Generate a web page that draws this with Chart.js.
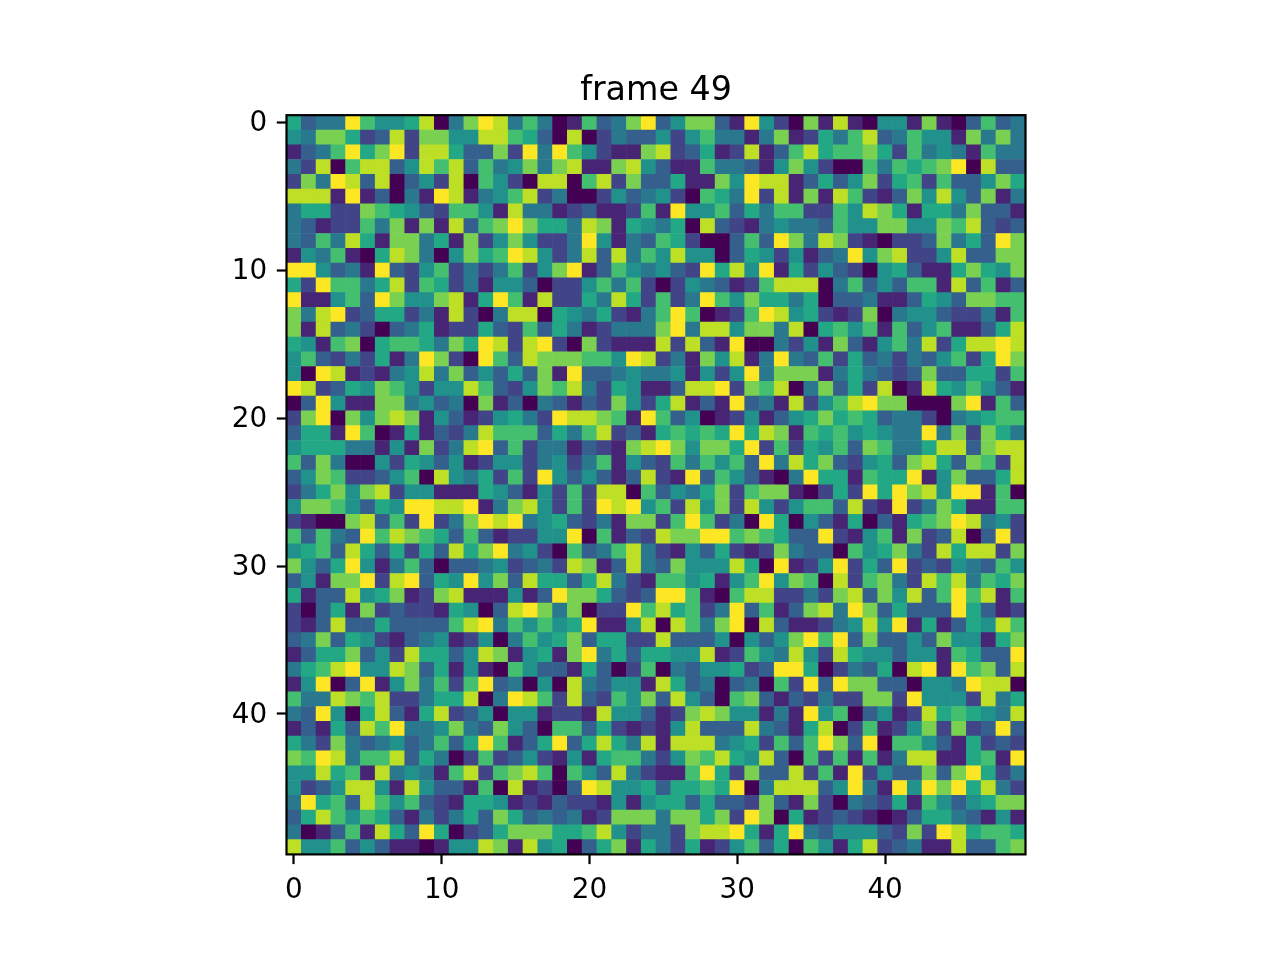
<!DOCTYPE html>
<html>
<head>
<meta charset="utf-8">
<title>frame 49</title>
<script src="https://cdn.jsdelivr.net/npm/chart.js@4.4.1/dist/chart.umd.min.js"></script>
<style>
  html, body { margin: 0; padding: 0; background: #fff; }
  canvas { display: block; }
</style>
</head>
<body>
<canvas id="frameChart" width="1280" height="960"></canvas>
<script>
const title = "frame 49";
const xTicks = [0, 10, 20, 30, 40];
const yTicks = [0, 10, 20, 30, 40];

// cell values in tenths (0 = lowest, 10 = highest), one array per image row, top row first
const rows = [
  [6,3,4,4,10,7,5,5,6,9,0,4,8,10,9,4,7,4,0,1,7,3,4,8,10, 3,5,8,8,3,1,10,5,2,0,8,1,9,1,0,5,5,1,8,1,0,3,7,3,4],
  [5,4,8,8,6,2,3,9,2,8,8,5,5,9,9,7,6,3,0,9,0,2,4,3,3, 5,2,5,7,4,4,1,4,8,1,2,6,4,7,9,3,4,7,5,5,1,8,4,8,4],
  [1,3,4,7,10,6,8,10,2,9,9,6,3,3,8,2,10,4,10,7,5,2,1,1,8, 9,2,3,6,1,2,9,1,3,7,9,6,7,7,8,6,2,7,4,5,4,1,7,4,4],
  [4,2,9,0,7,9,9,3,5,9,7,9,3,7,4,5,8,4,8,9,1,1,8,9,5, 3,1,1,7,4,4,3,1,5,8,5,2,0,0,7,4,7,6,7,8,10,0,9,3,3],
  [2,8,4,10,9,3,9,0,3,5,2,9,0,7,5,2,0,9,9,0,7,9,2,8,3, 3,6,1,1,8,5,10,9,9,1,3,6,3,5,8,2,6,7,2,7,3,3,5,8,6],
  [9,9,9,1,10,1,3,0,4,1,10,9,1,4,5,7,9,2,4,0,0,2,5,3,4, 5,2,0,7,6,4,10,2,9,1,8,1,9,7,2,1,3,8,5,9,5,3,8,1,4],
  [4,6,6,2,2,8,7,6,5,3,2,7,7,5,1,9,4,4,1,2,3,1,1,2,7, 1,10,5,5,7,3,6,4,7,7,2,2,7,5,9,8,6,1,6,6,4,8,3,3,1],
  [4,3,1,2,2,7,4,8,1,8,1,9,3,7,8,10,8,6,6,4,9,8,1,6,5, 4,6,0,9,3,2,1,4,5,4,4,3,7,5,5,8,8,5,5,8,7,9,3,2,3],
  [4,3,7,4,9,6,1,8,8,4,6,1,8,2,5,8,5,2,2,4,10,5,1,4,3, 7,6,2,0,0,3,7,3,10,8,4,9,8,2,1,0,2,2,3,8,4,6,3,10,8],
  [1,5,4,7,1,0,6,9,8,4,0,5,8,6,7,10,9,5,2,4,9,3,9,4,7, 5,9,5,5,0,3,6,5,2,5,1,3,4,10,5,8,9,2,2,5,9,3,3,8,8],
  [10,10,5,3,4,1,10,3,2,5,7,2,4,2,4,7,2,5,8,10,1,3,7,5,4, 5,3,2,10,6,9,5,10,1,6,2,5,3,2,0,5,6,3,1,1,6,8,6,5,8],
  [6,2,10,7,7,4,6,9,2,7,6,2,4,1,5,5,3,0,2,2,5,7,4,7,2, 0,2,5,4,3,1,2,7,9,9,9,0,4,7,3,5,3,7,7,1,9,3,7,1,3],
  [10,1,1,5,7,3,10,8,5,5,8,9,1,6,10,7,1,9,2,2,6,4,9,6,2, 7,2,4,10,7,5,8,6,6,4,6,0,3,3,4,1,1,3,6,5,3,8,8,7,7],
  [8,4,9,10,2,3,6,6,2,4,1,9,2,0,4,9,9,0,6,5,4,6,2,1,4, 7,10,7,0,1,2,7,10,9,5,6,2,1,2,8,0,4,5,5,3,2,2,4,1,7],
  [8,1,9,3,4,2,0,3,4,6,1,2,2,6,3,2,7,3,6,4,1,2,4,4,4, 8,10,4,9,9,5,8,8,4,9,0,6,7,5,7,1,7,3,5,7,1,1,3,6,9],
  [6,5,1,7,8,0,6,7,7,6,4,8,6,10,9,2,9,10,2,0,8,2,1,1,1, 9,2,9,3,1,10,0,0,4,2,5,1,8,3,1,5,7,4,9,2,6,9,9,10,9],
  [5,7,3,2,4,2,6,1,4,10,8,2,0,10,7,3,9,8,8,8,7,7,5,10,9, 2,4,1,8,5,9,1,4,10,4,3,7,2,6,3,4,2,4,3,5,7,2,6,10,8],
  [5,0,10,9,1,2,1,4,5,9,4,8,3,5,3,6,3,8,1,10,3,3,4,5,4, 4,5,1,5,2,5,10,4,8,8,8,1,4,6,4,3,2,3,8,3,3,6,6,2,7],
  [10,9,2,3,6,5,8,7,5,2,5,5,9,7,3,2,5,8,7,9,4,2,6,5,1, 1,3,9,9,10,2,8,7,9,0,4,8,3,6,2,9,0,1,9,6,5,7,5,3,1],
  [0,3,10,5,1,1,8,8,4,5,3,4,0,8,1,3,0,4,3,1,3,2,8,5,2, 6,9,1,3,1,10,3,4,1,9,2,5,7,9,10,8,8,0,0,0,8,10,1,7,3],
  [2,8,10,0,8,5,8,9,8,1,5,3,1,2,5,6,4,2,10,9,9,8,7,1,10, 7,3,5,0,1,2,5,1,3,5,6,8,6,7,6,3,4,4,2,0,4,5,6,7,7],
  [3,6,6,1,10,7,0,1,6,1,3,2,4,9,7,7,7,3,6,4,7,9,2,3,1, 6,7,6,7,6,10,6,9,8,1,7,6,7,5,6,5,4,4,10,4,8,2,8,6,4],
  [5,6,6,6,4,4,1,5,1,8,2,4,9,10,3,7,2,4,4,1,3,2,1,8,9, 10,8,5,8,8,6,10,2,7,2,6,5,7,3,8,7,4,4,6,9,9,3,8,9,9],
  [7,3,8,4,0,0,5,2,6,5,3,5,1,2,5,5,2,4,5,2,4,7,1,5,3, 2,7,4,7,5,7,3,10,4,9,6,8,3,2,5,6,3,8,9,6,3,8,7,2,9],
  [3,5,8,7,2,2,3,5,7,0,9,5,4,6,2,7,2,10,5,3,5,3,1,3,9, 2,1,10,3,7,5,3,1,0,4,10,6,6,1,7,6,6,10,1,5,8,3,3,6,9],
  [2,4,6,8,5,8,9,2,5,5,1,1,1,6,5,3,1,5,2,7,2,9,9,0,7, 3,5,4,6,8,2,7,8,8,1,0,2,6,2,10,6,10,8,9,5,10,10,1,7,0],
  [5,8,8,7,5,3,6,5,10,10,9,9,10,1,4,8,9,5,2,7,2,10,9,10,5, 7,2,9,5,8,2,9,5,2,5,7,7,3,9,2,1,10,2,4,8,6,1,1,7,7],
  [2,1,0,0,8,9,3,7,2,10,2,4,8,10,9,10,4,5,6,3,2,4,1,8,8, 2,7,10,7,2,4,0,10,6,0,5,3,1,6,0,3,1,6,7,8,10,9,4,5,2],
  [7,3,7,4,3,10,7,9,8,7,6,3,7,3,1,2,2,5,5,10,0,7,1,3,2, 9,8,8,10,10,7,8,7,6,3,3,10,2,1,5,7,1,8,2,3,9,0,3,10,2],
  [5,6,7,3,9,6,3,6,2,6,3,9,6,8,10,4,5,2,0,7,3,4,7,9,4, 2,1,5,3,6,2,1,2,8,4,3,3,0,7,5,6,8,4,2,9,6,9,9,2,8],
  [8,5,3,6,10,5,1,4,7,3,0,3,3,4,5,2,3,4,2,9,8,1,3,9,4, 3,8,5,5,5,9,6,0,10,1,2,5,10,2,6,3,10,2,3,2,5,4,3,7,5],
  [3,5,1,8,8,10,2,9,10,3,6,5,10,5,8,3,9,6,6,3,6,9,4,2,1, 7,7,5,6,1,5,7,10,5,8,7,0,9,2,7,8,4,2,9,7,9,4,7,6,8],
  [6,1,3,3,9,5,6,8,1,2,8,9,1,1,1,5,1,3,10,8,8,6,3,2,3, 10,10,7,1,0,7,9,9,2,2,4,2,8,9,3,8,5,9,3,7,10,7,9,1,7],
  [2,0,3,6,1,8,2,3,2,2,1,6,5,0,3,9,10,8,4,8,0,2,2,10,7, 9,6,7,2,4,10,3,7,1,3,8,9,4,10,8,3,6,3,3,3,10,6,3,1,2],
  [2,1,3,9,3,3,6,3,3,3,3,7,9,10,4,7,5,7,5,6,10,1,1,5,9, 0,9,7,4,8,10,0,9,3,1,1,2,4,5,9,5,10,1,6,1,3,6,5,9,7],
  [3,4,8,3,6,5,2,1,3,4,5,1,2,5,0,4,7,5,6,8,3,6,6,2,2, 9,3,3,3,5,0,5,3,5,8,10,7,10,3,8,3,3,5,3,8,5,5,1,6,8],
  [1,3,6,6,8,3,5,2,9,6,6,3,5,9,8,1,5,6,1,8,10,4,6,3,6, 6,5,5,9,1,2,7,5,4,9,5,2,9,6,5,5,3,5,5,1,7,6,3,3,10],
  [4,6,7,9,10,5,5,9,8,3,6,1,5,1,0,7,5,3,3,1,6,3,0,2,7, 0,4,3,5,5,6,2,3,10,10,6,0,2,4,3,6,0,9,10,1,10,7,8,3,9],
  [1,5,10,0,3,10,1,5,8,4,7,2,7,10,3,4,0,5,0,9,4,3,5,5,1, 9,6,3,4,0,3,4,0,7,2,10,3,10,8,8,3,3,0,5,5,4,10,9,9,0],
  [7,4,4,9,8,7,9,2,2,4,6,6,9,0,4,10,9,7,2,9,3,2,7,5,8, 3,9,5,3,0,7,8,3,1,3,2,4,2,2,8,8,2,10,5,5,5,2,9,4,6],
  [4,3,10,5,0,6,9,3,1,6,9,2,3,5,0,5,5,1,2,2,1,9,5,5,3, 1,2,8,9,8,5,5,1,4,1,10,5,7,0,3,5,1,2,9,6,7,6,5,4,9],
  [1,3,1,6,3,9,7,10,4,4,5,8,4,3,8,5,3,0,7,7,3,6,2,1,2, 1,5,9,3,3,3,9,4,3,1,6,9,0,2,7,1,2,5,8,2,8,2,3,10,3],
  [6,4,2,8,4,3,4,5,3,4,7,3,6,10,7,1,3,6,10,3,6,9,6,4,9, 1,9,9,9,4,5,6,2,7,3,7,10,8,3,10,0,7,7,5,3,1,6,2,3,2],
  [8,7,10,9,4,7,7,9,3,6,4,0,2,7,2,3,5,2,1,5,1,6,7,7,4, 2,5,8,7,9,6,5,9,3,0,7,2,7,1,7,1,4,9,9,1,1,6,7,1,10],
  [5,5,9,6,7,1,9,4,5,4,1,7,9,2,7,8,9,7,0,7,5,3,9,4,2, 1,1,7,10,6,2,8,3,3,9,2,7,1,10,2,5,3,3,8,3,8,10,6,2,4],
  [5,2,3,5,9,9,5,1,9,5,3,3,1,7,0,9,1,2,0,3,10,9,5,5,6, 3,6,6,7,6,10,0,4,9,9,9,3,5,10,4,1,10,5,10,8,10,6,9,4,2],
  [4,10,6,7,3,9,7,5,7,3,2,1,6,6,5,1,2,1,3,2,2,1,5,1,5, 6,6,3,6,3,3,2,8,3,1,8,2,0,4,3,2,6,1,7,5,3,5,6,8,8],
  [3,6,9,7,5,7,6,3,1,4,2,4,6,3,8,6,3,4,3,4,1,2,8,8,8, 4,8,8,6,8,2,10,8,0,6,1,2,3,2,1,0,1,3,6,6,4,3,1,5,1],
  [4,0,1,3,7,1,9,6,3,10,6,0,2,3,6,8,8,8,6,6,7,9,5,2,4, 4,2,8,9,9,10,6,1,6,10,4,3,5,5,5,3,2,8,2,10,9,6,7,7,6],
  [9,5,5,7,3,5,3,1,1,0,1,5,5,9,8,1,9,5,6,0,3,6,8,1,6, 4,2,6,1,2,5,7,3,6,0,7,5,1,6,9,2,3,4,1,1,9,3,3,7,8]
];

// viridis, sampled at 0.0, 0.1, ... 1.0
const viridis = ["#440154", "#482475", "#414487", "#355f8d", "#2a788e", "#21918c",
                 "#22a884", "#44bf70", "#7ad151", "#bddf26", "#fde725"];

const cells = rows.flatMap((row, y) => row.map((v, x) => ({ x: x, y: y, v: v })));

const font = { family: "'DejaVu Sans', sans-serif", size: 27.8 };

// full box round the image, like the matplotlib spines
const frame = {
  id: "frame",
  afterDatasetsDraw(chart) {
    const { ctx, chartArea: a } = chart;
    ctx.save();
    ctx.strokeStyle = "#000";
    ctx.lineWidth = 2.2;
    ctx.strokeRect(a.left, a.top, a.right - a.left, a.bottom - a.top);
    ctx.restore();
  }
};

function cellRadius(ctx) {
  const s = ctx.chart.scales.x;
  if (!s) return 5;
  const w = Math.abs(s.getPixelForValue(1) - s.getPixelForValue(0));
  return (w + 0.6) / Math.SQRT2;
}

Chart.defaults.color = "#000";

new Chart(document.getElementById("frameChart").getContext("2d"), {
  type: "scatter",
  data: {
    datasets: [{
      data: cells,
      pointStyle: "rect",
      pointRadius: cellRadius,
      pointHoverRadius: cellRadius,
      borderWidth: 0,
      backgroundColor: (ctx) => (ctx.raw ? viridis[ctx.raw.v] : "#000"),
      clip: 0
    }]
  },
  options: {
    responsive: false,
    animation: false,
    events: [],
    devicePixelRatio: 1,
    layout: { padding: { left: 206.5, right: 174.5, top: 0, bottom: 25.6 } },
    plugins: {
      legend: { display: false },
      tooltip: { enabled: false },
      title: {
        display: true,
        text: title,
        color: "#000",
        font: { family: font.family, size: 33.3, weight: "normal" },
        padding: { top: 71, bottom: 4.2 }
      }
    },
    scales: {
      x: {
        type: "linear",
        min: -0.5,
        max: 49.5,
        afterBuildTicks: (scale) => { scale.ticks = xTicks.map((v) => ({ value: v })); },
        afterFit: (scale) => { scale.height = 80; },
        border: { display: false },
        grid: { drawOnChartArea: false, drawTicks: true, tickLength: 9.7, tickWidth: 2.2, tickColor: "#000" },
        ticks: { font: font, color: "#000", padding: 9.7, maxRotation: 0, autoSkip: false }
      },
      y: {
        type: "linear",
        reverse: true,
        min: -0.5,
        max: 49.5,
        afterBuildTicks: (scale) => { scale.ticks = yTicks.map((v) => ({ value: v })); },
        afterFit: (scale) => { scale.width = 80; },
        border: { display: false },
        grid: { drawOnChartArea: false, drawTicks: true, tickLength: 9.7, tickWidth: 2.2, tickColor: "#000" },
        ticks: { font: font, color: "#000", padding: 9.7, labelOffset: 1.5, autoSkip: false }
      },
      // empty axis on the right, only there to balance the left one so the title centres over the image
      yRight: {
        type: "linear",
        position: "right",
        min: 0,
        max: 1,
        afterBuildTicks: (scale) => { scale.ticks = []; },
        afterFit: (scale) => { scale.width = 80; },
        border: { display: false },
        grid: { display: false },
        ticks: { display: false }
      }
    }
  },
  plugins: [frame]
});
</script>
</body>
</html>
